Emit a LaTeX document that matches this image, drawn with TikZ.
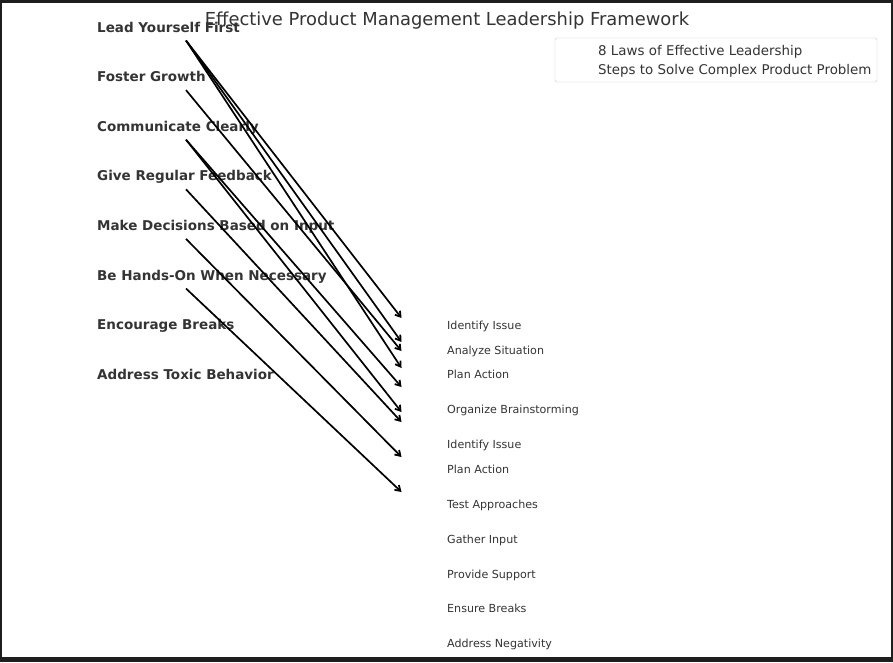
\documentclass[tikz,border=0pt]{standalone}
\usepackage{fontspec}
\setmainfont{DejaVu Sans}
\usetikzlibrary{arrows.meta}
\definecolor{txtgray}{RGB}{52,52,52}
\definecolor{framegray}{RGB}{30,30,30}
\definecolor{legendedge}{RGB}{204,204,204}
\begin{document}
\begin{tikzpicture}[x=1pt,y=-1pt,
    law/.style={anchor=base west,inner sep=0pt,text=txtgray,font=\fontsize{13.5}{16}\selectfont\bfseries},
    stepname/.style={anchor=base west,inner sep=0pt,text=txtgray,font=\fontsize{11.1}{13}\selectfont},
    legendtext/.style={anchor=base west,inner sep=0pt,text=txtgray,font=\fontsize{13.4}{16}\selectfont},
    link/.style={-{Straight Barb[length=5pt,width=6.5pt,line width=1.8pt]},line width=1.7pt,black}]
                \useasboundingbox (0,0) rectangle (893,662);
                \fill[framegray] (0,0) rectangle (893,662);
                \fill[white] (2,3) rectangle (891,657);

                \node (title) at (447,25) [anchor=base,inner sep=0pt,text=txtgray,font=\fontsize{17.9}{21}\selectfont] {Effective Product Management Leadership Framework};

                \draw[legendedge,fill=white,rounded corners=2pt] (555,38) rectangle (877,82);
                \node (leglaws) at (598,55) [legendtext] {8 Laws of Effective Leadership};
                \node (legsteps) at (598,74) [legendtext] {Steps to Solve Complex Product Problem};

                \node (lead) at (97,32) [law] {Lead Yourself First};
                \node (foster) at (97,81.6) [law] {Foster Growth};
                \node (communicate) at (97,131.2) [law] {Communicate Clearly};
                \node (feedback) at (97,180.8) [law] {Give Regular Feedback};
                \node (decisions) at (97,230.4) [law] {Make Decisions Based on Input};
                \node (handson) at (97,280) [law] {Be Hands-On When Necessary};
                \node (breaks) at (97,329.6) [law] {Encourage Breaks};
                \node (toxic) at (97,379.2) [law] {Address Toxic Behavior};

                \node (identify) at (447,329) [stepname] {Identify Issue};
                \node (analyze) at (447,354) [stepname] {Analyze Situation};
                \node (plan) at (447,378) [stepname] {Plan Action};
                \node (organize) at (447,413) [stepname] {Organize Brainstorming};
                \node (identifyb) at (447,448) [stepname] {Identify Issue};
                \node (planb) at (447,473) [stepname] {Plan Action};
                \node (test) at (447,508) [stepname] {Test Approaches};
                \node (gather) at (447,543) [stepname] {Gather Input};
                \node (support) at (447,578) [stepname] {Provide Support};
                \node (ensure) at (447,612) [stepname] {Ensure Breaks};
                \node (negativity) at (447,647) [stepname] {Address Negativity};

                \coordinate (lead-s) at (186,40.5);
                \coordinate (foster-s) at (186,90.1);
                \coordinate (communicate-s) at (186,139.7);
                \coordinate (feedback-s) at (186,189.3);
                \coordinate (decisions-s) at (186,238.9);
                \coordinate (handson-s) at (186,288.5);

                \coordinate (e1) at (401.5,318);
                \coordinate (e2) at (401.5,342);
                \coordinate (e3) at (401.5,351);
                \coordinate (e4) at (401.5,368);
                \coordinate (e5) at (401.5,387);
                \coordinate (e6) at (401.5,412);
                \coordinate (e7) at (401.5,422);
                \coordinate (e8) at (401.5,457);
                \coordinate (e9) at (401.5,492);

                \draw[link] (lead-s) -- (e1);
                \draw[link] (lead-s) -- (e2);
                \draw[link] (lead-s) -- (e4);
                \draw[link] (foster-s) -- (e3);
                \draw[link] (communicate-s) -- (e5);
                \draw[link] (communicate-s) -- (e6);
                \draw[link] (feedback-s) -- (e7);
                \draw[link] (decisions-s) -- (e8);
                \draw[link] (handson-s) -- (e9);
            \end{tikzpicture}
\end{document}
